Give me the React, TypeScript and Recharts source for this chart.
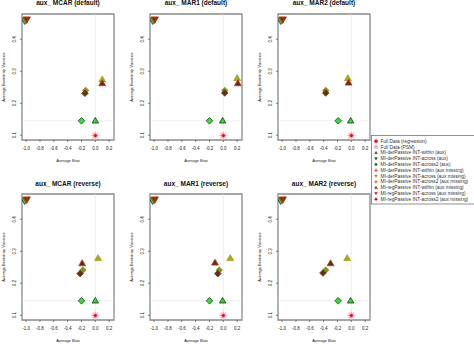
import { ReferenceArea, ReferenceLine, Scatter, ScatterChart, XAxis, YAxis } from "recharts";

// panels: MCAR / MAR1 / MAR2, default row then reverse row
const panelTitles = [
  "aux_ MCAR (default)",
  "aux_ MAR1 (default)",
  "aux_ MAR2 (default)",
  "aux_ MCAR (reverse)",
  "aux_ MAR1 (reverse)",
  "aux_ MAR2 (reverse)",
];

const xTicks = [-1.0, -0.8, -0.6, -0.4, -0.2, 0.0, 0.2];
const yTicks = [0.1, 0.2, 0.3, 0.4];
const xDomain: [number, number] = [-1.06, 0.27];
const yDomain: [number, number] = [0.085, 0.479];

// light guide lines
const refBias = 0;
const refVariance = 0.145;

// one value per panel
const fullRegBias = [0, 0, 0, 0, 0, 0];
const fullRegVar = [0.099, 0.099, 0.099, 0.099, 0.099, 0.099];
const fullPsmBias = [0, 0, 0, 0, 0, 0];
const fullPsmVar = [0.099, 0.099, 0.099, 0.099, 0.099, 0.099];
const auxWithinBias = [0.0, -0.01, -0.01, 0.0, -0.01, -0.01];
const auxWithinVar = [0.145, 0.145, 0.145, 0.145, 0.145, 0.145];
const auxAcrossBias = [-1.02, -1.02, -1.02, -1.02, -1.02, -1.02];
const auxAcrossVar = [0.458, 0.458, 0.458, 0.458, 0.458, 0.458];
const auxAcross2Bias = [-0.2, -0.2, -0.19, -0.2, -0.2, -0.19];
const auxAcross2Var = [0.145, 0.145, 0.145, 0.145, 0.145, 0.145];
const derMissWithinBias = [0.1, 0.2, -0.05, 0.04, 0.1, -0.06];
const derMissWithinVar = [0.274, 0.278, 0.278, 0.278, 0.278, 0.278];
const derMissAcrossBias = [-1.0, -1.0, -1.0, -1.0, -1.0, -1.0];
const derMissAcrossVar = [0.461, 0.461, 0.461, 0.461, 0.461, 0.461];
const derMissAcross2Bias = [-0.14, 0.02, -0.37, -0.18, -0.06, -0.37];
const derMissAcross2Var = [0.24, 0.24, 0.24, 0.241, 0.241, 0.241];
const regWithinBias = [0.1, 0.21, -0.04, -0.19, -0.12, -0.3];
const regWithinVar = [0.262, 0.262, 0.264, 0.262, 0.264, 0.262];
const regAcrossBias = [-0.99, -0.99, -0.99, -0.99, -0.99, -0.99];
const regAcrossVar = [0.462, 0.462, 0.462, 0.462, 0.462, 0.462];
const regAcross2Bias = [-0.15, 0.02, -0.37, -0.22, -0.08, -0.41];
const regAcross2Var = [0.231, 0.232, 0.232, 0.23, 0.23, 0.232];

type Shape = "circle" | "star" | "up" | "down" | "diamond";

type Series = {
  name: string;
  bias: number[];
  variance: number[];
  shape: Shape;
  fill: string;
  stroke: string;
  size: number;
  key: string; // legend colour
};

const series: Series[] = [
  { name: "Full Data (PSM)", bias: fullPsmBias, variance: fullPsmVar, shape: "star", fill: "none", stroke: "#f7a8b8", size: 3.4, key: "#f7a8b8" },
  { name: "Full Data (regression)", bias: fullRegBias, variance: fullRegVar, shape: "circle", fill: "#e8112d", stroke: "#e8112d", size: 1.5, key: "#e8112d" },
  { name: "MI-derPassive INT-within (aux)", bias: auxWithinBias, variance: auxWithinVar, shape: "up", fill: "#3ecf3e", stroke: "#1b3a1b", size: 3.4, key: "#1f4f1f" },
  { name: "MI-derPassive INT-across (aux)", bias: auxAcrossBias, variance: auxAcrossVar, shape: "down", fill: "#3ecf3e", stroke: "#1b3a1b", size: 3.8, key: "#1f4f1f" },
  { name: "MI-derPassive INT-across2 (aux)", bias: auxAcross2Bias, variance: auxAcross2Var, shape: "diamond", fill: "#33dd33", stroke: "#1b4a1b", size: 3.3, key: "#1f6f2f" },
  { name: "MI-derPassive INT-within (aux missing)", bias: derMissWithinBias, variance: derMissWithinVar, shape: "up", fill: "#7cc21e", stroke: "#c8861c", size: 3.6, key: "#e0453a" },
  { name: "MI-derPassive INT-across (aux missing)", bias: derMissAcrossBias, variance: derMissAcrossVar, shape: "down", fill: "#6a8f1f", stroke: "#d2691e", size: 3.8, key: "#e8601a" },
  { name: "MI-derPassive INT-across2 (aux missing)", bias: derMissAcross2Bias, variance: derMissAcross2Var, shape: "diamond", fill: "#6f9a1f", stroke: "#c97a2a", size: 3.3, key: "#e07a20" },
  { name: "MI-regPassive INT-within (aux missing)", bias: regWithinBias, variance: regWithinVar, shape: "up", fill: "#5a3212", stroke: "#d42a1e", size: 3.6, key: "#8c2d04" },
  { name: "MI-regPassive INT-across (aux missing)", bias: regAcrossBias, variance: regAcrossVar, shape: "down", fill: "#7a3a0c", stroke: "#b8321c", size: 3.8, key: "#e0103a" },
  { name: "MI-regPassive INT-across2 (aux missing)", bias: regAcross2Bias, variance: regAcross2Var, shape: "diamond", fill: "#5c3317", stroke: "#7a3a14", size: 3.3, key: "#b0102a" },
];

// legend order as in the reference
const legendOrder = [
  "Full Data (regression)",
  "Full Data (PSM)",
  "MI-derPassive INT-within (aux)",
  "MI-derPassive INT-across (aux)",
  "MI-derPassive INT-across2 (aux)",
  "MI-derPassive INT-within (aux missing)",
  "MI-derPassive INT-across (aux missing)",
  "MI-derPassive INT-across2 (aux missing)",
  "MI-regPassive INT-within (aux missing)",
  "MI-regPassive INT-across (aux missing)",
  "MI-regPassive INT-across2 (aux missing)",
];

const FONT = "'Liberation Sans', Arial, Helvetica, sans-serif";

function Mark({ cx, cy, shape, fill, stroke, s, sw = 0.8 }: { cx: number; cy: number; shape: Shape; fill: string; stroke: string; s: number; sw?: number }) {
  if (cx == null || cy == null) return null;
  switch (shape) {
    case "circle":
      return <circle cx={cx} cy={cy} r={s} fill={fill} stroke={stroke} strokeWidth={0.4} />;
    case "star": {
      const d = s * 0.7;
      return (
        <g stroke={stroke} strokeWidth={1.3} strokeLinecap="round">
          <line x1={cx - s} y1={cy} x2={cx + s} y2={cy} />
          <line x1={cx} y1={cy - s} x2={cx} y2={cy + s} />
          <line x1={cx - d} y1={cy - d} x2={cx + d} y2={cy + d} />
          <line x1={cx - d} y1={cy + d} x2={cx + d} y2={cy - d} />
        </g>
      );
    }
    case "up":
      return <polygon points={`${cx},${cy - s} ${cx - s * 0.95},${cy + s * 0.65} ${cx + s * 0.95},${cy + s * 0.65}`} fill={fill} stroke={stroke} strokeWidth={sw} />;
    case "down":
      return <polygon points={`${cx},${cy + s} ${cx - s * 0.95},${cy - s * 0.65} ${cx + s * 0.95},${cy - s * 0.65}`} fill={fill} stroke={stroke} strokeWidth={sw} />;
    default:
      return <polygon points={`${cx},${cy - s} ${cx + s},${cy} ${cx},${cy + s} ${cx - s},${cy}`} fill={fill} stroke={stroke} strokeWidth={sw} />;
  }
}

function YTick(props: any) {
  const { x, y, payload } = props;
  return (
    <text x={x} y={y} transform={`rotate(-90 ${x} ${y})`} textAnchor="middle" fontSize={4.5} fill="#222" fontFamily={FONT}>
      {Number(payload.value).toFixed(1)}
    </text>
  );
}

function YTitle(props: any) {
  const vb = props.viewBox || { x: 0, y: 14, width: 22, height: 126 };
  const x = vb.x + 3.2;
  const y = vb.y + vb.height / 2;
  return (
    <text x={x} y={y} transform={`rotate(-90 ${x} ${y})`} textAnchor="middle" dominantBaseline="central" fontSize={4} fill="#222" fontFamily={FONT}>
      Average Bootstrap Variance
    </text>
  );
}

function Panel({ idx }: { idx: number }) {
  const row = Math.floor(idx / 3);
  const col = idx % 3;
  return (
    <div style={{ position: "absolute", left: col * 128, top: row * 180 }}>
      <ScatterChart width={128} height={164} margin={{ top: 14, right: 14, bottom: 0, left: 0 }}>
        <XAxis
          type="number"
          dataKey="x"
          domain={xDomain}
          ticks={xTicks}
          interval={0}
          allowDataOverflow
          tickFormatter={(v: number) => v.toFixed(1)}
          tick={{ fontSize: 4.5, fill: "#222", fontFamily: FONT }}
          tickSize={2}
          tickMargin={5}
          axisLine={false}
          tickLine={{ stroke: "#333", strokeWidth: 0.6 }}
          height={24}
          label={{ value: "Average Bias", position: "insideBottom", offset: 2, fontSize: 4, fill: "#222", fontFamily: FONT }}
        />
        <YAxis
          type="number"
          dataKey="y"
          domain={yDomain}
          ticks={yTicks}
          interval={0}
          allowDataOverflow
          width={22}
          tick={<YTick />}
          tickSize={2}
          tickMargin={4}
          axisLine={false}
          tickLine={{ stroke: "#333", strokeWidth: 0.6 }}
          label={<YTitle />}
        />
        <ReferenceLine x={refBias} stroke="#e2e2e2" strokeWidth={0.6} />
        <ReferenceLine y={refVariance} stroke="#e2e2e2" strokeWidth={0.6} />
        <ReferenceArea x1={xDomain[0]} x2={xDomain[1]} y1={yDomain[0]} y2={yDomain[1]} fill="none" fillOpacity={0} stroke="#8a8a8a" strokeWidth={1.3} />
        {series.map((s) => (
          <Scatter
            key={s.name}
            name={s.name}
            data={[{ x: s.bias[idx], y: s.variance[idx] }]}
            isAnimationActive={false}
            shape={(p: any) => <Mark cx={p.cx} cy={p.cy} shape={s.shape} fill={s.fill} stroke={s.stroke} s={s.size} />}
          />
        ))}
      </ScatterChart>
    </div>
  );
}

function Legend() {
  return (
    <svg width={104} height={72} style={{ position: "absolute", left: 370, top: 134 }}>
      <rect x={1.5} y={1.5} width={120} height={68.5} fill="#fff" stroke="#777" strokeWidth={0.8} />
      {legendOrder.map((name, i) => {
        const s = series.find((d) => d.name === name)!;
        const y = 7.2 + i * 5.8;
        return (
          <g key={name}>
            <Mark cx={6} cy={y} shape={s.shape} fill={s.key} stroke={s.key} s={s.shape === "star" ? 1.5 : 1.6} sw={0.3} />
            <text x={10.5} y={y} dominantBaseline="central" fontSize={4.8} fill="#333" fontFamily={FONT}>
              {name}
            </text>
          </g>
        );
      })}
    </svg>
  );
}

export default function App() {
  return (
    <div style={{ position: "absolute", left: 0, top: 0, width: 474, height: 344, overflow: "hidden", background: "#fff", fontFamily: FONT }}>
      {panelTitles.map((_, i) => (
        <Panel key={i} idx={i} />
      ))}
      <svg width={474} height={344} style={{ position: "absolute", left: 0, top: 0, pointerEvents: "none" }}>
        {panelTitles.map((t, i) => (
          <text key={t} x={(i % 3) * 128 + 68} y={i < 3 ? 4.5 : 185.5} textAnchor="middle" fontSize={6.5} fontWeight="bold" fill="#111" fontFamily={FONT}>
            {t}
          </text>
        ))}
      </svg>
      <Legend />
    </div>
  );
}
